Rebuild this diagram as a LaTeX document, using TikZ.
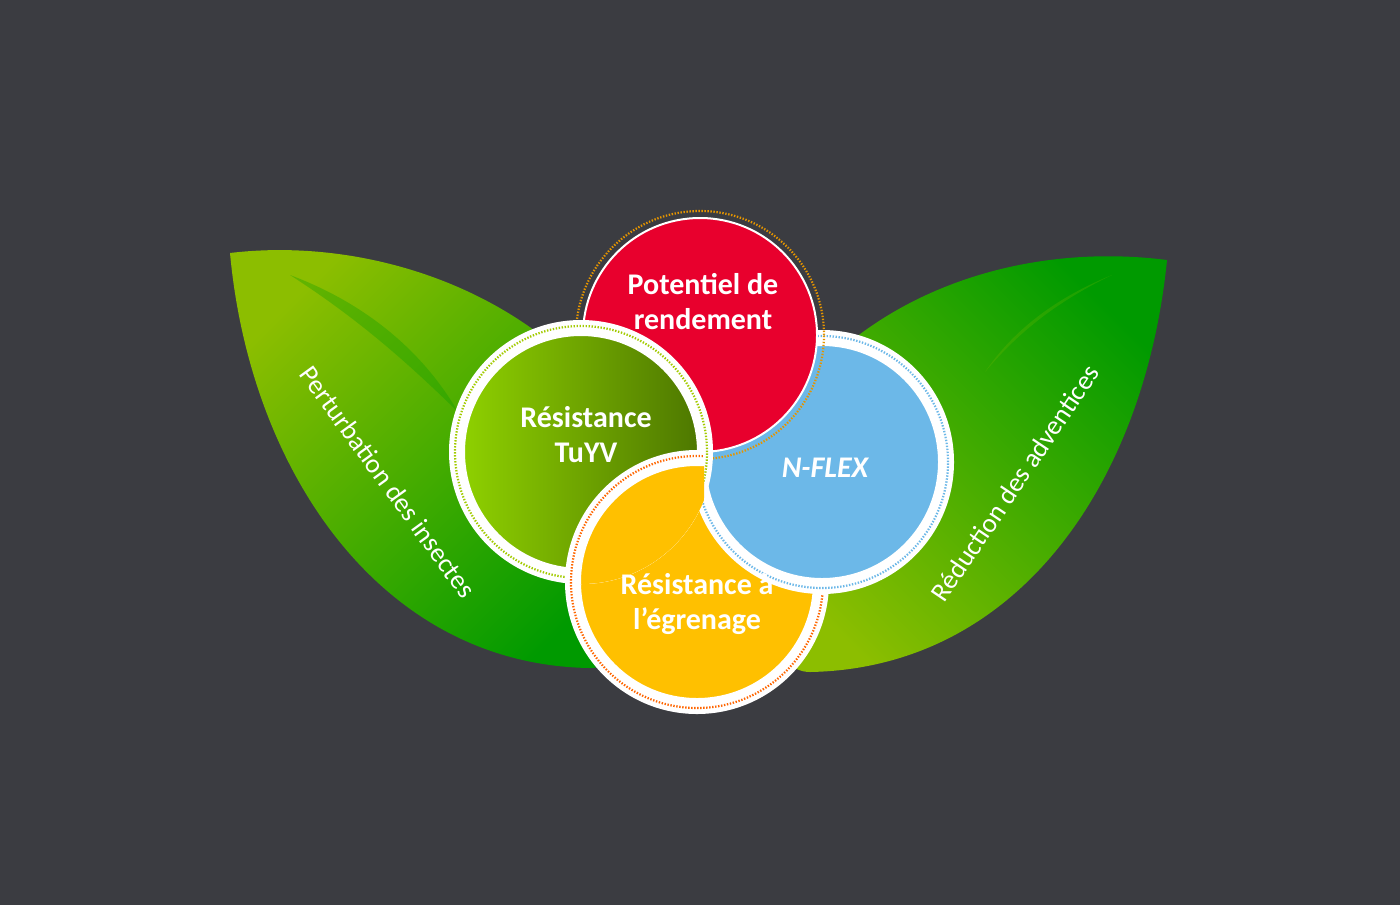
\documentclass[tikz,border=0pt]{standalone}
\usepackage{fontspec}
\setmainfont{Carlito}
\begin{document}
\begin{tikzpicture}[x=0.5pt,y=-0.5pt,
  lbl/.style={text=white,font=\bfseries\fontsize{15}{17.5}\selectfont,align=center},
  leaflbl/.style={text=white,font=\fontsize{13.5}{15}\selectfont},
  dotring/.style={line width=1.1pt,dash pattern=on 0.7pt off 0.8pt}]
\definecolor{bg}{HTML}{3B3C41}
\definecolor{cred}{HTML}{E8002D}
\definecolor{cblue}{HTML}{6CB8E8}
\definecolor{cyel}{HTML}{FFC000}
\definecolor{lgA}{HTML}{8CBE00}
\definecolor{lgB}{HTML}{009A00}
\definecolor{gA}{HTML}{8ED000}
\definecolor{gB}{HTML}{4E7800}
\fill[bg] (0,0) rectangle (1400,905);
\useasboundingbox (0,0) rectangle (1400,905);
% leaves
\shade[left color=lgA,right color=lgB,shading angle=45]
 (230,253) .. controls (380,235) and (560,300) .. (640,450)
 .. controls (650,600) and (630,668) .. (590,668)
 .. controls (380,665) and (250,470) .. (230,253) -- cycle;
\fill[lgB,opacity=0.3] (290,275) .. controls (370,305) and (425,355) .. (458,412)
 .. controls (410,365) and (360,320) .. (290,275) -- cycle;
\shade[left color=lgB,right color=lgA,shading angle=-45]
 (1167,260) .. controls (1010,240) and (840,300) .. (760,450)
 .. controls (750,600) and (770,672) .. (810,672)
 .. controls (1020,668) and (1145,480) .. (1167,260) -- cycle;
\fill[lgA,opacity=0.2] (1112,275) .. controls (1050,300) and (1010,335) .. (985,372)
 .. controls (1020,330) and (1060,300) .. (1112,275) -- cycle;
\node[leaflbl,rotate=-54] (l1) at (388,482) {Perturbation des insectes};
\node[leaflbl,rotate=56] (l2) at (1015,483) {Réduction des adventices};
% circles: yellow, blue, red, green
\newcommand{\yelstack}{%
 \fill[white] (697,582) circle[radius=66pt];
 \draw[dotring,orange!80!red] (697,582) circle[radius=63pt];
 \fill[cyel,draw=white,line width=1pt] (697,582) circle[radius=58.5pt];}
\yelstack
\fill[white] (822,462) circle[radius=66pt];
\draw[dotring,cblue] (822,462) circle[radius=63pt];
\fill[cblue,draw=white,line width=1pt] (822,462) circle[radius=58.5pt];
\draw[dotring,orange!70!yellow!90!black] (700,335) circle[radius=62pt];
\fill[cred,draw=white,line width=1pt] (700,335) circle[radius=58.5pt];
\fill[white] (581,452) circle[radius=66pt];
\draw[dotring,lgA!80!yellow] (581,452) circle[radius=63pt];
\shade[left color=gA,right color=gB,draw=white,line width=1pt] (581,452) circle[radius=58.5pt];
\begin{scope}
 \clip (581,452) circle[radius=66pt];
 \clip (400,440) rectangle (704,800);
 \yelstack
\end{scope}
\node[lbl] (t1) at (703,302) {Potentiel de\\rendement};
\node[lbl] (t2) at (586,435) {Résistance\\TuYV};
\node[lbl] (t3) at (825,468) {\itshape N-FLEX};
\node[lbl] (t4) at (697,604) {Résistance à\\l’égrenage};
\end{tikzpicture}
\end{document}
